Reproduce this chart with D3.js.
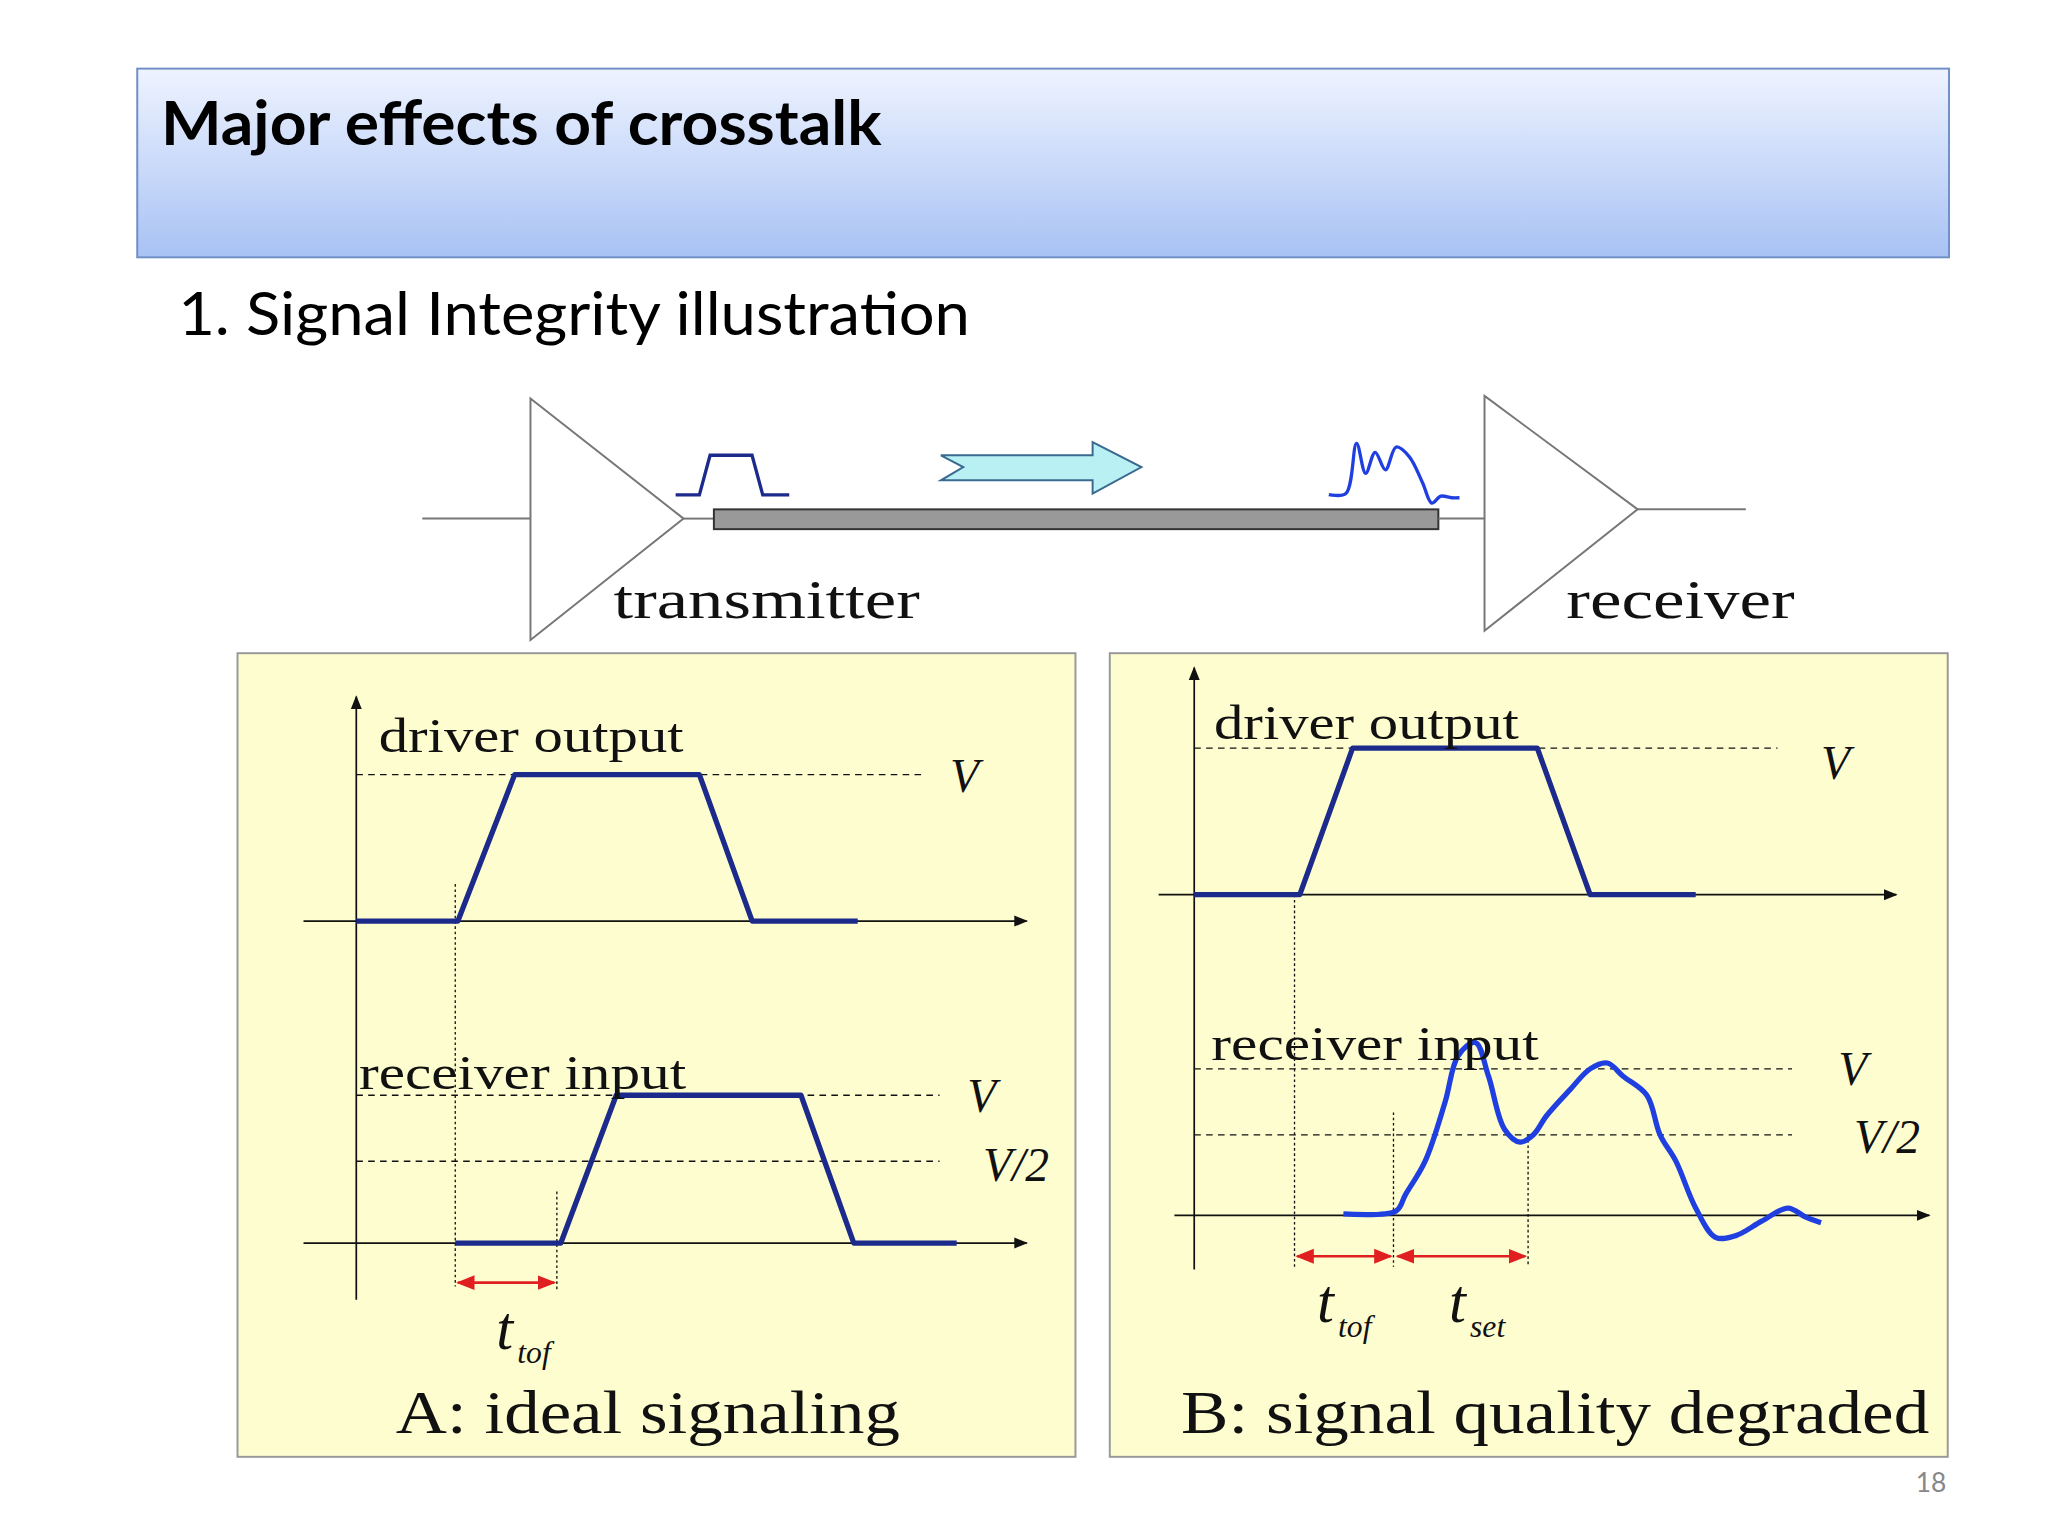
<!DOCTYPE html>
<html><head><meta charset="utf-8">
<script src="https://cdn.jsdelivr.net/npm/d3@7"></script>
<style>html,body{margin:0;padding:0;background:#fff}</style></head>
<body><svg id="c" width="2048" height="1536" viewBox="0 0 1552 1164"></svg>
<script>
// time (arbitrary units) and voltage (fraction of V)
const driverT = [0, 1.54, 2.4, 5.2, 6.0, 7.6];
const driverV = [0, 0, 1, 1, 0, 0];
const idealRxT = [1.5, 3.1, 3.94, 6.74, 7.54, 9.1];
const idealRxV = [0, 0, 1, 1, 0, 0];
const driverBT = [0, 1.6, 2.4, 5.2, 6.0, 7.6];
const degradedRxT = [2.26,3.06,3.2,3.5,3.8,4.0,4.26,4.46,4.7,4.94,5.14,5.34,5.7,6.0,6.26,6.5,6.86,7.06,7.3,7.6,7.9,8.2,8.6,9.0,9.26,9.5];
const degradedRxV = [0.01,0.03,0.14,0.37,0.77,1.09,1.18,0.95,0.59,0.5,0.55,0.68,0.86,1.0,1.04,0.95,0.82,0.55,0.37,0.05,-0.15,-0.14,-0.04,0.05,-0.01,-0.05];
const pulseT = [0, 0.6, 0.87, 1.93, 2.2, 2.87];
const pulseV = [0, 0, 1, 1, 0, 0];
const wiggleT = [0,0.43,0.7,0.93,1.17,1.43,1.7,2.03,2.37,2.6,2.83,3.1,3.3];
const wiggleV = [0.03,0.05,1.0,0.43,0.83,0.5,0.93,0.75,0.25,-0.13,0,-0.03,-0.03];

const svg = d3.select("#c");
const defs = svg.append("defs");
const g = defs.append("linearGradient").attr("id","tg").attr("x1",0).attr("y1",0).attr("x2",0).attr("y2",1);
g.append("stop").attr("offset","0%").attr("stop-color","#eef3ff");
g.append("stop").attr("offset","100%").attr("stop-color","#a8c2f4");
const mk = defs.append("marker").attr("id","ah").attr("viewBox","0 0 10 10").attr("refX",9).attr("refY",5)
  .attr("markerWidth",8).attr("markerHeight",8).attr("orient","auto-start-reverse");
mk.append("path").attr("d","M0,1L10,5L0,9Z").attr("fill","#111");
const mr = defs.append("marker").attr("id","ar").attr("viewBox","0 0 10 10").attr("refX",9).attr("refY",5)
  .attr("markerWidth",7).attr("markerHeight",7).attr("orient","auto-start-reverse");
mr.append("path").attr("d","M0,1L10,5L0,9Z").attr("fill","#e02020");

svg.append("rect").attr("x",104).attr("y",52).attr("width",1373).attr("height",143).attr("fill","url(#tg)").attr("stroke","#6f8fc6").attr("stroke-width",1.5);
svg.append("text").attr("x",122).attr("y",110).attr("font-family","Lato, 'Open Sans', sans-serif").attr("font-weight","bold").attr("font-size",46).attr("fill","#000").attr("textLength",546).attr("lengthAdjust","spacingAndGlyphs").text("Major effects of crosstalk");
svg.append("text").attr("x",135).attr("y",254).attr("font-family","Lato, 'Open Sans', sans-serif").attr("font-size",46).attr("fill","#000").attr("textLength",600).attr("lengthAdjust","spacingAndGlyphs").text("1. Signal Integrity illustration");
svg.append("text").attr("x",1475).attr("y",1131).attr("text-anchor","end").attr("font-family","Lato, sans-serif").attr("font-size",20).attr("fill","#888").text("18");

const serif = "'Liberation Serif', 'DejaVu Serif', serif";
function line(x1,y1,x2,y2,st){const l=svg.append("line").attr("x1",x1).attr("y1",y1).attr("x2",x2).attr("y2",y2);for(const k in st)l.attr(k,st[k]);return l;}
function text(x,y,s,sz,opt={}){const t=svg.append("text").attr("x",x).attr("y",y).attr("font-family",serif).attr("font-size",sz).attr("fill","#111").text(s);for(const k in opt)t.attr(k,opt[k]);if(opt.textLength)t.attr("lengthAdjust","spacingAndGlyphs");return t;}

// top diagram
const gray={stroke:"#777","stroke-width":1.5};
line(320,393,402,393,gray);
svg.append("path").attr("d","M402,302L518,393L402,485Z").attr("fill","none").attr("stroke","#777").attr("stroke-width",1.5);
line(518,393,541,393,gray);
svg.append("rect").attr("x",541).attr("y",386).attr("width",549).attr("height",15).attr("fill","#999").attr("stroke","#333").attr("stroke-width",1.5);
line(1090,393,1125,393,gray);
svg.append("path").attr("d","M1125,300L1241,386L1125,478Z").attr("fill","none").attr("stroke","#777").attr("stroke-width",1.5);
line(1241,386,1323,386,gray);
svg.append("path").attr("d","M713,345L828,345L828,335L865,354L828,374L828,364L713,364L730,354Z").attr("fill","#b8f0f4").attr("stroke","#3a6a90").attr("stroke-width",1.5);
text(465,468,"transmitter",42,{textLength:232});
text(1187,468,"receiver",42,{textLength:173});
const px = d3.scaleLinear().domain([0,1]).range([512,542]);
const py = d3.scaleLinear().domain([0,1]).range([375,345]);
svg.append("path").attr("d",d3.line().x((d,i)=>px(pulseT[i])).y((d,i)=>py(pulseV[i]))(pulseT)).attr("fill","none").attr("stroke","#1c2a8c").attr("stroke-width",2.5);
const wx = d3.scaleLinear().domain([0,1]).range([1007,1037]);
const wy = d3.scaleLinear().domain([0,1]).range([376,336]);
svg.append("path").attr("d",d3.line().curve(d3.curveCatmullRom).x((d,i)=>wx(wiggleT[i])).y((d,i)=>wy(wiggleV[i]))(wiggleT)).attr("fill","none").attr("stroke","#1f3fe0").attr("stroke-width",2.5);

// panels
[[180,495],[841,495]].forEach(([x,y])=>svg.append("rect").attr("x",x).attr("y",y).attr("width",635).attr("height",609).attr("fill","#fefdd0").attr("stroke","#999").attr("stroke-width",1.5));
const ax={stroke:"#111","stroke-width":1.3,"marker-end":"url(#ah)"};
const dash={stroke:"#111","stroke-width":1,"stroke-dasharray":"5,4"};
const dot={stroke:"#111","stroke-width":1,"stroke-dasharray":"2,2"};
const red={stroke:"#e02020","stroke-width":2,"marker-end":"url(#ar)","marker-start":"url(#ar)"};

function wave(xs,ys,T,V,color,curve){
  svg.append("path").attr("d",d3.line().curve(curve||d3.curveLinear).x((d,i)=>xs(T[i])).y((d,i)=>ys(V[i]))(T))
    .attr("fill","none").attr("stroke",color).attr("stroke-width",4).attr("stroke-linejoin","round");
}
// Panel A
const xA = d3.scaleLinear().domain([0,10]).range([270,770]);
const yAd = d3.scaleLinear().domain([0,1]).range([698,587]);
const yAr = d3.scaleLinear().domain([0,1]).range([942,830]);
line(270,985,270,528,ax);
line(230,698,778,698,ax);
line(230,942,778,942,ax);
line(270,587,700,587,dash);
line(270,830,712,830,dash);
line(270,880,712,880,dash);
line(345,670,345,975,dot);
line(422,903,422,978,dot);
line(347,972,420,972,red);
wave(xA,yAd,driverT,driverV,"#1c2a8c");
wave(xA,yAr,idealRxT,idealRxV,"#1c2a8c");
text(287,570,"driver output",36,{textLength:231});
text(720,600,"V",36,{"font-style":"italic"});
text(272,825,"receiver input",36,{textLength:248});
text(733,843,"V",36,{"font-style":"italic"});
text(745,895,"V/2",36,{"font-style":"italic"});
text(376,1022,"t",46,{"font-style":"italic"});
text(392,1033,"tof",24,{"font-style":"italic"});
text(300,1086,"A: ideal signaling",46,{textLength:382});

// Panel B
const xB = d3.scaleLinear().domain([0,10]).range([905,1405]);
const yBd = d3.scaleLinear().domain([0,1]).range([678,567]);
const yBr = d3.scaleLinear().domain([0,1]).range([921,810]);
line(905,962,905,506,ax);
line(878,678,1437,678,ax);
line(890,921,1462,921,ax);
line(905,567,1347,567,dash);
line(905,810,1358,810,dash);
line(905,860,1358,860,dash);
line(981,678,981,960,dot);
line(1056,843,1056,960,dot);
line(1158,860,1158,960,dot);
line(983,952,1054,952,red);
line(1059,952,1156,952,red);
wave(xB,yBd,driverBT,driverV,"#1c2a8c");
wave(xB,yBr,degradedRxT,degradedRxV,"#1f3fe0",d3.curveCatmullRom);
text(920,560,"driver output",36,{textLength:231});
text(1380,590,"V",36,{"font-style":"italic"});
text(918,803,"receiver input",36,{textLength:248});
text(1393,822,"V",36,{"font-style":"italic"});
text(1405,874,"V/2",36,{"font-style":"italic"});
text(998,1002,"t",46,{"font-style":"italic"});
text(1014,1013,"tof",24,{"font-style":"italic"});
text(1098,1002,"t",46,{"font-style":"italic"});
text(1114,1013,"set",24,{"font-style":"italic"});
text(895,1086,"B: signal quality degraded",46,{textLength:567});
</script></body></html>
